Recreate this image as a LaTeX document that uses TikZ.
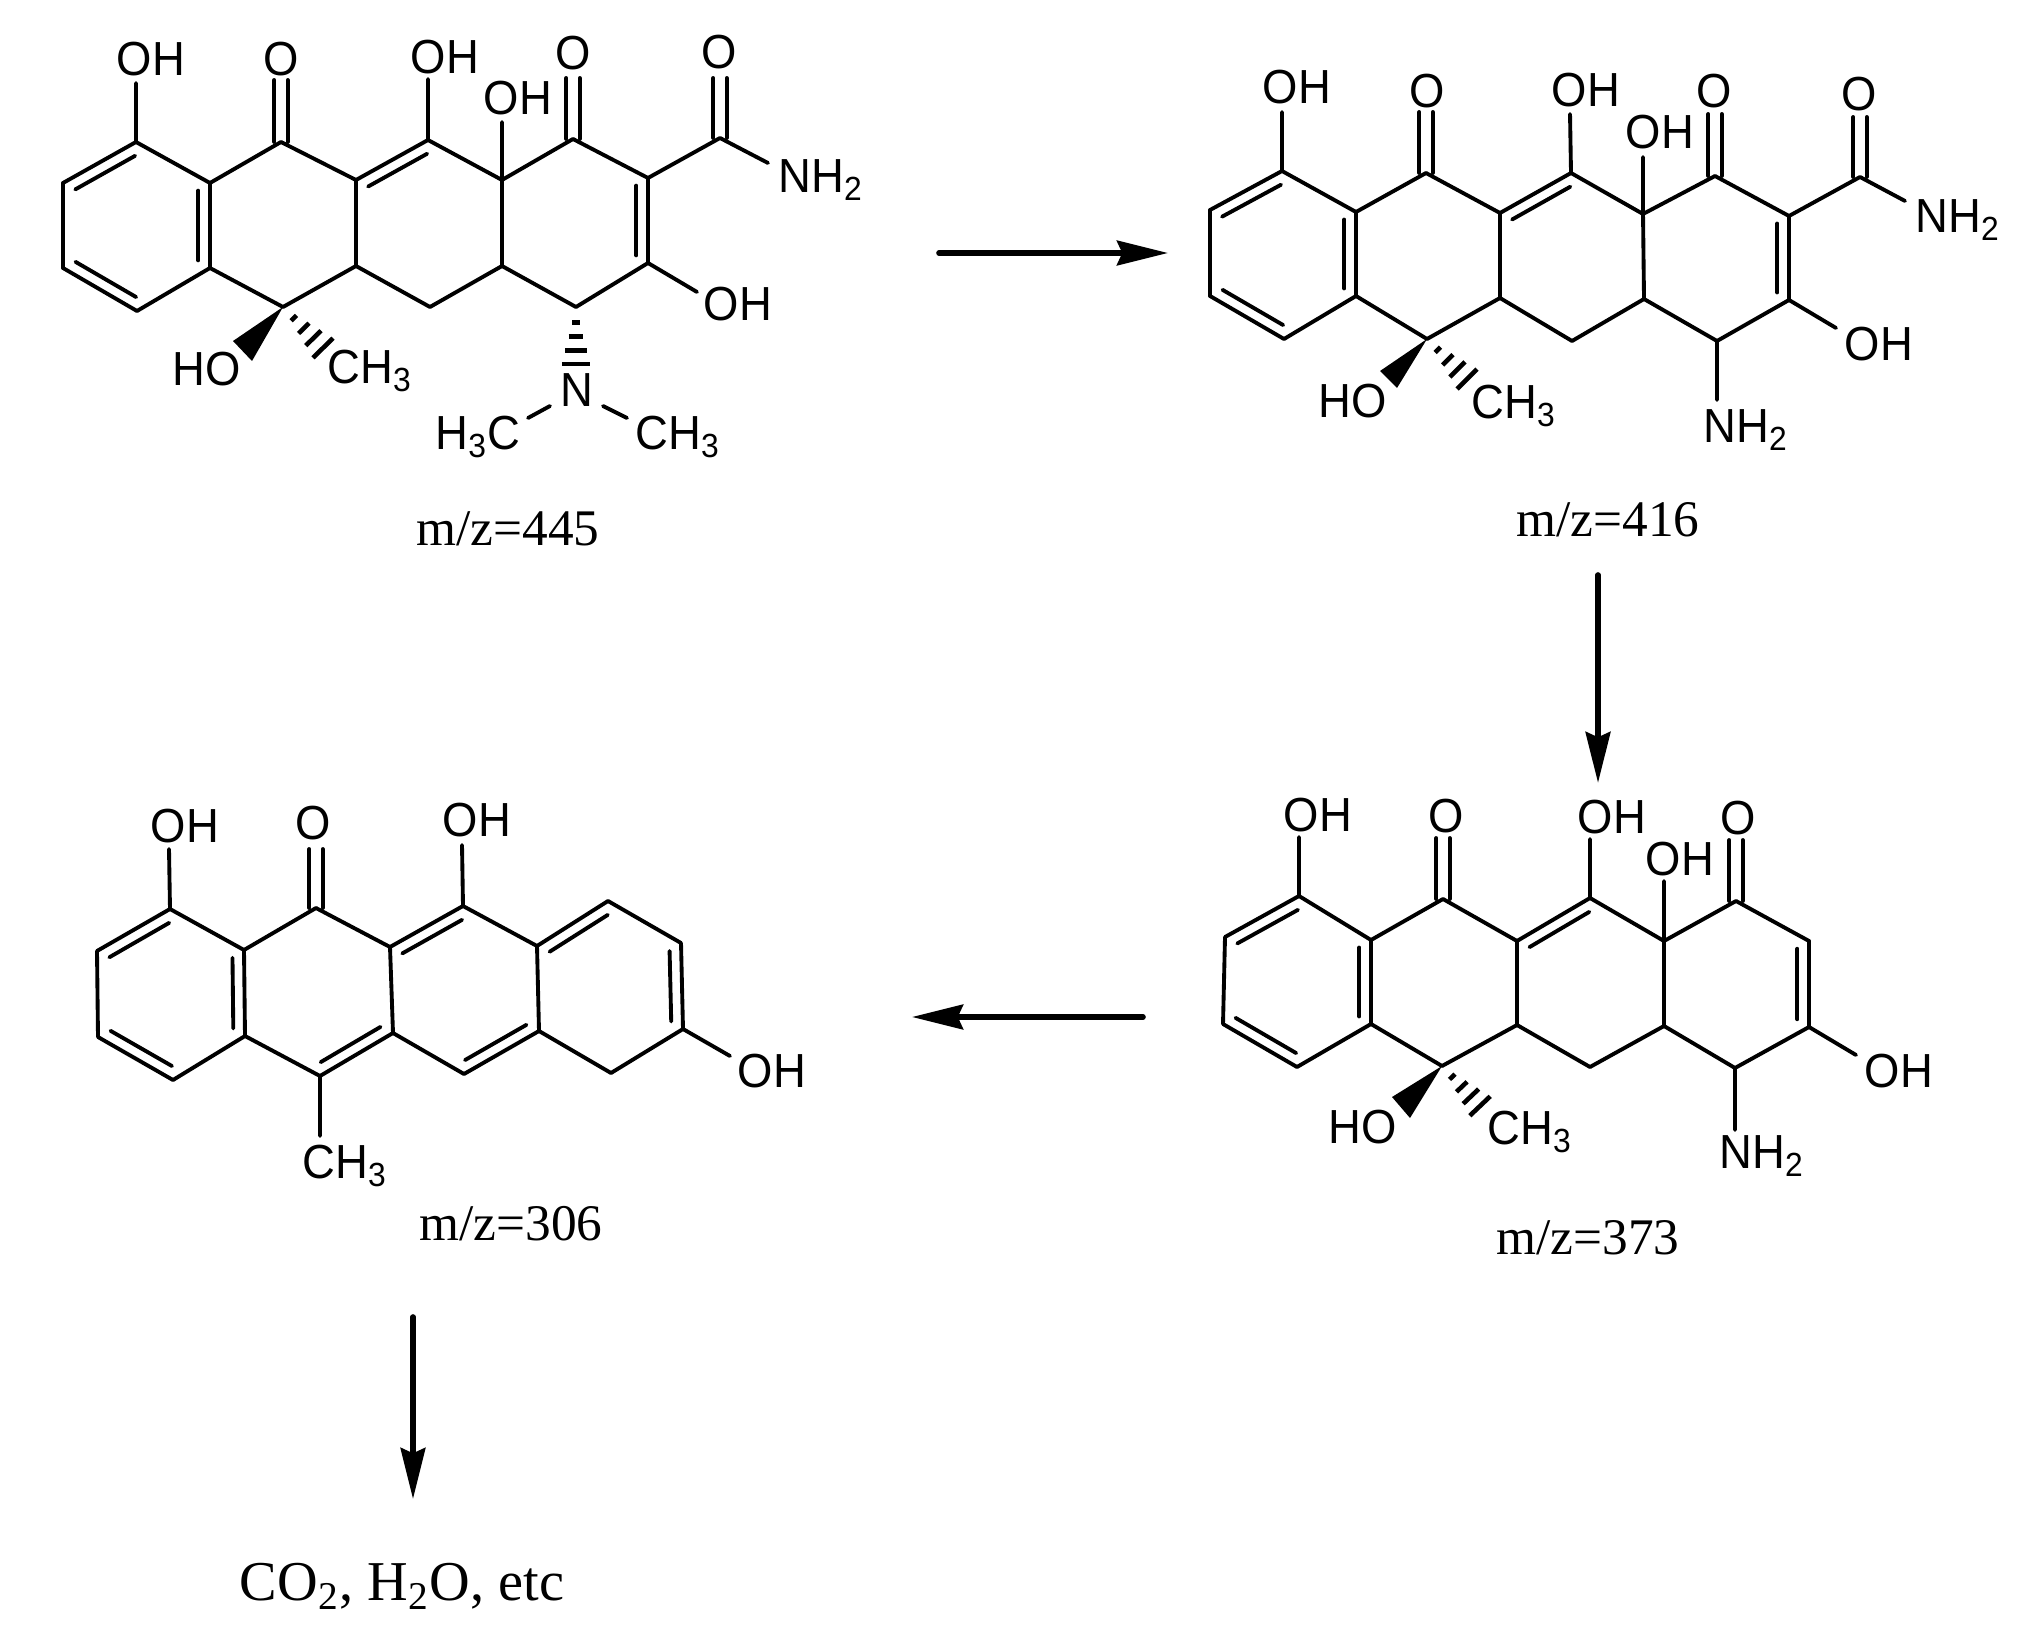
\documentclass[tikz,border=0pt]{standalone}
\usepackage{fontspec}
\setmainfont{Liberation Serif}
\newfontfamily\atomfont[FakeStretch=0.95]{Liberation Sans}
\usetikzlibrary{arrows.meta}
\usetikzlibrary{calc}
\tikzset{
  bond/.style={line width=1.1pt},
  atom/.style={font=\atomfont\fontsize{13.6}{15}\selectfont,inner sep=0pt},
  mz/.style={font=\fontsize{14.6}{17}\selectfont,inner sep=0pt},
  reactarrow/.style={->,line width=1.6pt}
}
% short inner line of a ring double bond, ring on the left of #1 -> #2
\newcommand{\innerbond}[2]{\draw[bond] ($(#1)!.09!(#2)!3.3pt!90:(#2)$) -- ($(#2)!.09!(#1)!3.3pt!-90:(#1)$);}
% C=O
\newcommand{\dblbond}[2]{\draw[bond] ($(#1)!1.9pt!90:(#2)$) -- ($(#2)!1.9pt!-90:(#1)$) ($(#1)!1.9pt!-90:(#2)$) -- ($(#2)!1.9pt!90:(#1)$);}
% hashed bond
\newcommand{\hashbond}[2]{\foreach \t in {.27,.52,.76,1}{
    \pgfmathsetmacro{\w}{\t*4}
    \draw[bond,line cap=butt,line width=1.3pt] ($(#1)!\t!(#2)!\w pt!90:(#1)$) -- ($(#1)!\t!(#2)!\w pt!-90:(#1)$);}}
\newcommand{\ringbonds}[1]{\foreach \u/\v in {a/b,b/c,c/d,d/e,e/f,f/a,b/g,g/h,h/i,i/j,j/c,h/k,k/l,l/m,m/n,n/i,l/o,o/p,p/q,q/r,r/m}
    \draw[bond] (#1\u) -- (#1\v);}
\begin{document}
\begin{tikzpicture}[line cap=round,line join=round,>={Stealth[length=14.5pt,width=7pt,inset=1.5pt]},x=0.01cm,y=-0.01cm]
  \useasboundingbox (0,0) rectangle (2019,1637);
  % m/z=445
  \foreach \n/\x/\y in {a/136/142,b/210/183,c/210/268,d/137/311,e/63/268,f/63/183,g/281/142,h/356/180,i/356/266,j/283/307,
      k/428/140,l/502/180,m/502/266,n/430/307,o/573/139,p/648/178,q/648/263,r/576/307,s/720/138,
      ea/136/83,eg/281/80,ek/428/79,el/502/122,eo/573/78,es/720/78,en/768/163,eq/697/292,ej/323/348,
      wa/233/341,wb/252/361,er/576/364,ml/550/406,mm/528/418,mr/603/406,ms/627/418}
    \coordinate (mA\n) at (\x,\y);
  \ringbonds{mA}
  \innerbond{mAa}{mAf} \innerbond{mAe}{mAd} \innerbond{mAc}{mAb} \innerbond{mAk}{mAh} \innerbond{mAq}{mAp}
  \draw[bond] (mAp) -- (mAs) (mAs) -- (mAen) (mAq) -- (mAeq) (mAa) -- (mAea) (mAk) -- (mAek) (mAl) -- (mAel);
  \dblbond{mAg}{mAeg}
  \dblbond{mAo}{mAeo}
  \dblbond{mAs}{mAes}
  \fill (mAj) -- (mAwa) -- (mAwb) -- cycle;
  \hashbond{mAj}{mAej}
  \hashbond{mAr}{mAer}
  \draw[bond] (mAml) -- (mAmm) (mAmr) -- (mAms);
  \foreach \n/\x/\y/\t in {oha/151/59/OH,oa/281/59/O,ohb/445/57/OH,ohc/518/98/OH,ob/573/53/O,oc/719/52/O,nh/821/180/{NH\textsubscript{2}},
      ohd/738/304/OH,he/207/369/HO,mea/370/371/{CH\textsubscript{3}},nn/577/390/N,meb/478/437/{H\textsubscript{3}C},mec/678/437/{CH\textsubscript{3}}}
    \node[atom] (mA\n) at (\x,\y) {\t};
  \node[mz] (mAz) at (508,529) {m/z=445};
  % m/z=416
  \foreach \n/\x/\y in {a/1282/171,b/1356/212,c/1356/296,d/1284/339,e/1210/296,f/1210/210,g/1426/173,h/1500/213,i/1500/298,j/1427/339,
      k/1571/173,l/1643/214,m/1644/299,n/1572/341,o/1715/176,p/1789/216,q/1789/300,r/1717/341,s/1860/177,
      ea/1282/112,eg/1426/112,ek/1570/114,el/1643/157,eo/1715/114,es/1860/117,en/1905/201,eq/1836/328,ej/1467/379,
      wa/1380/371,wb/1397/388,er/1717/400}
    \coordinate (mB\n) at (\x,\y);
  \ringbonds{mB}
  \innerbond{mBa}{mBf} \innerbond{mBe}{mBd} \innerbond{mBc}{mBb} \innerbond{mBk}{mBh} \innerbond{mBq}{mBp}
  \draw[bond] (mBp) -- (mBs) (mBs) -- (mBen) (mBq) -- (mBeq) (mBa) -- (mBea) (mBk) -- (mBek) (mBl) -- (mBel) (mBr) -- (mBer);
  \dblbond{mBg}{mBeg}
  \dblbond{mBo}{mBeo}
  \dblbond{mBs}{mBes}
  \fill (mBj) -- (mBwa) -- (mBwb) -- cycle;
  \hashbond{mBj}{mBej}
  \foreach \n/\x/\y/\t in {oha/1297/87/OH,oa/1427/91/O,ohb/1586/90/OH,ohc/1660/132/OH,ob/1714/91/O,oc/1859/94/O,nh/1958/220/{NH\textsubscript{2}},
      ohd/1879/344/OH,he/1353/401/HO,mea/1514/406/{CH\textsubscript{3}},nh2/1746/430/{NH\textsubscript{2}}}
    \node[atom] (mB\n) at (\x,\y) {\t};
  \node[mz] (mBz) at (1608,520) {m/z=416};
  % m/z=373
  \foreach \n/\x/\y in {a/1299/896,b/1371/940,c/1371/1024,d/1297/1067,e/1223/1024,f/1225/937,g/1443/899,h/1517/941,i/1517/1025,j/1442/1066,
      k/1590/898,l/1664/941,m/1664/1026,n/1590/1067,o/1736/901,p/1809/941,q/1809/1027,r/1735/1068,
      ea/1299/837,eg/1443/838,ek/1590/839,el/1664/881,eo/1736/840,eq/1856/1055,ej/1480/1106,
      wa/1392/1097,wb/1410/1118,er/1735/1130}
    \coordinate (mC\n) at (\x,\y);
  \ringbonds{mC}
  \innerbond{mCa}{mCf} \innerbond{mCe}{mCd} \innerbond{mCc}{mCb} \innerbond{mCk}{mCh} \innerbond{mCq}{mCp}
  \draw[bond] (mCq) -- (mCeq) (mCa) -- (mCea) (mCk) -- (mCek) (mCl) -- (mCel) (mCr) -- (mCer);
  \dblbond{mCg}{mCeg}
  \dblbond{mCo}{mCeo}
  \fill (mCj) -- (mCwa) -- (mCwb) -- cycle;
  \hashbond{mCj}{mCej}
  \foreach \n/\x/\y/\t in {oha/1318/815/OH,oa/1446/816/O,ohb/1612/817/OH,ohc/1680/859/OH,ob/1738/818/O,
      ohd/1899/1071/OH,he/1363/1127/HO,mea/1530/1132/{CH\textsubscript{3}},nh2/1762/1156/{NH\textsubscript{2}}}
    \node[atom] (mC\n) at (\x,\y) {\t};
  \node[mz] (mCz) at (1588,1238) {m/z=373};
  % m/z=306
  \foreach \n/\x/\y in {a/170/909,b/244/950,c/245/1036,d/173/1080,e/98/1037,f/97/951,g/316/908,h/390/947,i/393/1033,j/320/1076,
      k/463/906,l/537/946,m/539/1031,n/464/1074,o/608/901,p/681/943,q/683/1029,r/611/1073,
      ea/169/849,eg/316/849,ek/462/845,eq/730/1056,ej/320/1136}
    \coordinate (mD\n) at (\x,\y);
  \ringbonds{mD}
  \innerbond{mDa}{mDf} \innerbond{mDe}{mDd} \innerbond{mDc}{mDb} \innerbond{mDk}{mDh} \innerbond{mDq}{mDp}
  \innerbond{mDj}{mDi} \innerbond{mDn}{mDm} \innerbond{mDo}{mDl}
  \draw[bond] (mDq) -- (mDeq) (mDa) -- (mDea) (mDk) -- (mDek) (mDj) -- (mDej);
  \dblbond{mDg}{mDeg}
  \foreach \n/\x/\y/\t in {oha/185/826/OH,oa/313/823/O,ohb/477/820/OH,ohd/772/1071/OH,mea/345/1166/{CH\textsubscript{3}}}
    \node[atom] (mD\n) at (\x,\y) {\t};
  \node[mz] (mDz) at (511,1224) {m/z=306};
  % arrows
  \foreach \n/\x/\y in {sa/939/253,ta/1168/253,sb/1598/575,tb/1598/783,sc/1143/1017,tc/912/1017,sd/413/1317,td/413/1499}
    \coordinate (\n) at (\x,\y);
  \foreach \u/\v in {sa/ta,sb/tb,sc/tc,sd/td}
    \draw[reactarrow] (\u) -- (\v);
  \node[mz,font=\fontsize{16}{19}\selectfont] (prod) at (402,1586) {CO\textsubscript{2}, H\textsubscript{2}O, etc};
\end{tikzpicture}
\end{document}
